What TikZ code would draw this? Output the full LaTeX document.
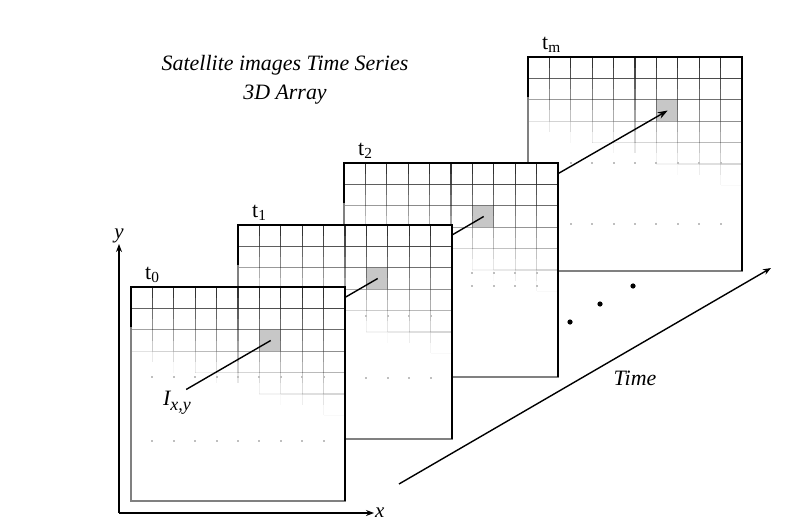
\documentclass[tikz,border=0pt]{standalone}
\usepackage{fontspec}
\setmainfont{Liberation Serif}
\usetikzlibrary{arrows.meta,calc}

\tikzset{
  gridline/.style={draw=black!85,line width=1.1bp},
  cellgray/.style={fill=black!22},
  framelight/.style={draw=black!50,line width=1.3bp},
  framedark/.style={draw=black,line width=1.5bp},
  faintdot/.style={fill=black!25},
  tlabel/.style={anchor=south west,inner sep=0pt,font=\fontsize{22}{23}\selectfont},
  pointer/.style={draw=black,line width=1.4bp},
  axis/.style={draw=black,line width=1.4bp,-{Stealth[length=8bp,width=6bp]}},
  itlabel/.style={font=\itshape\fontsize{21}{22}\selectfont},
}

% one image of the series: corner x, corner y, label, two faint rows
\newcommand{\satframe}[5]{%
  \fill[white] (#1,#2) rectangle ++(214,214);
  \fill[cellgray] (#1+128.4,#2+42.8) rectangle ++(21.4,21.4);
  \foreach \r in {0,...,10}{
    \foreach \c in {0,...,9}{
      \pgfmathsetmacro{\op}{max(0,min(1,1-\r/(3.3+0.3*(\c+0.5))))}
      \ifdim\op pt>0.02pt
        \draw[gridline,draw opacity=\op] (#1+\c*21.4,#2+\r*21.4) -- ++(21.4,0);
      \fi
    }
  }
  \foreach \c in {1,...,9}{
    \foreach \h in {0,...,19}{
      \pgfmathsetmacro{\op}{max(0,min(1,1-(\h+0.5)/2/(3.3+0.3*\c)))}
      \ifdim\op pt>0.02pt
        \draw[gridline,draw opacity=\op] (#1+\c*21.4,#2+\h*10.7) -- ++(0,10.7);
      \fi
    }
    \fill[faintdot] (#1+\c*21.4-1,#2+#4-0.6) rectangle ++(2,1.2);
    \fill[faintdot] (#1+\c*21.4-1,#2+#5-0.6) rectangle ++(2,1.2);
  }
  \draw[framelight] (#1,#2) rectangle ++(214,214);
  \draw[framedark] (#1,#2+40) -- (#1,#2) -- ++(214,0) -- ++(0,214);
  \node[tlabel] at (#1+14,#2-4) {#3};
}

\begin{document}
\begin{tikzpicture}[x=1bp,y=-1bp]
  \useasboundingbox (0,0) rectangle (794,523);

  % cell centres of the pixel I(x,y) in each image
  \coordinate (c0) at (270.7,340.5);
  \coordinate (c1) at (377.7,278.5);
  \coordinate (c2) at (483.7,216.5);
  \coordinate (cm) at (667.7,110.5);
  \coordinate (lstart) at ($(c0)!-0.79!(c1)$);

  % title
  \node[font=\itshape\fontsize{22}{29}\selectfont,align=center] (title) at (285,80)
    {Satellite images Time Series\\3D Array};

  % images, back to front
  \satframe{528}{57}{t\textsubscript{m}}{106}{167}
  \draw[pointer,-{Stealth[length=10bp,width=7bp]}] (c2) -- (cm);
  \satframe{344}{163}{t\textsubscript{2}}{110}{123}
  \draw[pointer] (c1) -- (c2);
  \satframe{238}{225}{t\textsubscript{1}}{91}{153}
  \draw[pointer] (c0) -- (c1);
  \satframe{131}{287}{t\textsubscript{0}}{90}{154}

  % pixel label
  \node[font=\itshape\fontsize{22}{24}\selectfont,inner sep=0pt] (ixy) at (177,403)
    {I\raisebox{-5bp}{\fontsize{18}{20}\selectfont x,y}};
  \draw[pointer] (lstart) -- (c0);

  % axes
  \coordinate (origin) at (119,513);
  \coordinate (yend) at (119,244);
  \coordinate (xend) at (374,513);
  \draw[axis] (origin) -- (yend);
  \draw[axis] (origin) -- (xend);
  \node[itlabel,anchor=south,inner sep=1pt] (ylab) at (yend) {y};
  \node[itlabel,anchor=west,inner sep=1pt] (xlab) at (xend) {x};

  % time axis
  \coordinate (tstart) at (399,484);
  \coordinate (tend) at (771,268);
  \draw[axis] (tstart) -- (tend);
  \node[font=\itshape\fontsize{22}{24}\selectfont] (timelab) at (635,378) {Time};

  % more images
  \fill (570,322) circle (2.6);
  \fill (600,304) circle (2.6);
  \fill (633,286) circle (2.6);
\end{tikzpicture}
\end{document}
